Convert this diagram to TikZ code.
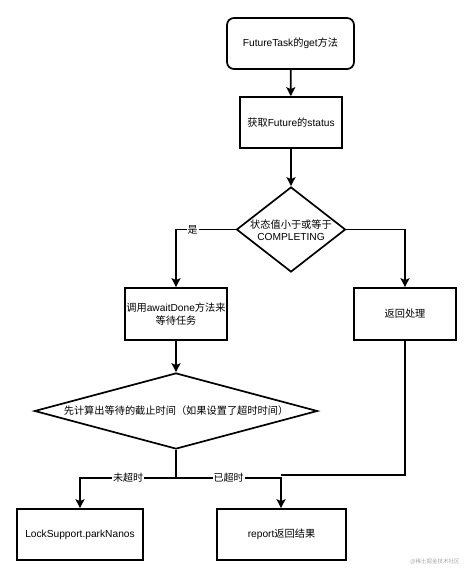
\documentclass[tikz,border=0pt]{standalone}
\usepackage{fontspec}
\setmainfont{Liberation Sans}
\newfontfamily\cjk{Noto Sans CJK SC}
\newcommand\zh[1]{{\cjk #1}}
\usetikzlibrary{shapes.geometric,arrows.meta}
\tikzset{
  box/.style={draw, line width=1.7pt, rectangle, inner sep=0pt, align=center},
  rbox/.style={box, rounded corners=7pt},
  dia/.style={draw, line width=1.7pt, diamond, inner sep=0pt},
  arr/.style={line width=1.7pt, -{Stealth[length=9pt,width=9pt,inset=2pt]}},
  conn/.style={line width=1.7pt},
  lbl/.style={fill=white, inner sep=1pt, font=\fontsize{10}{12}\selectfont},
  txt/.style={inner sep=0pt, align=center}
}
\begin{document}
\begin{tikzpicture}[x=1pt,y=-1pt, font=\fontsize{10.2}{12.2}\selectfont]
\fill[white] (0,0) rectangle (474,578);
\useasboundingbox (0,0) rectangle (474,578);

\node[rbox, minimum width=127, minimum height=51] (t) at (290.5,43.5) {FutureTask\zh{的}get\zh{方法}};
\node[box, minimum width=102, minimum height=51] (s) at (291,122.5) {\zh{获取}Future\zh{的}status};
\node[dia, minimum width=109, minimum height=85] (d1) at (291,229.5) {};
\node[txt] (d1t) at (291,230) {\zh{状态值小于或等于}\\COMPLETING};
\node[box, minimum width=102, minimum height=52] (aw) at (176,314) {\zh{调用}awaitDone\zh{方法来}\\\zh{等待任务}};
\node[box, minimum width=102, minimum height=52] (ret) at (405,314) {\zh{返回处理}};
\node[dia, minimum width=283, minimum height=76] (d2) at (176,411) {};
\node[txt] (d2t) at (176,411) {\zh{先计算出等待的截止时间（如果设置了超时时间）}};
\node[box, minimum width=126, minimum height=51] (ls) at (80,534.5) {LockSupport.parkNanos};
\node[box, minimum width=129, minimum height=51] (rep) at (281.5,534.5) {report\zh{返回结果}};
\coordinate (j) at (176,478);
\coordinate (k) at (281,475);
\node[txt, text=gray!70, font=\fontsize{5.5}{6}\selectfont] (wm) at (435,562) {\zh{@稀土掘金技术社区}};

\draw[arr] (t) -- (s);
\draw[arr] (s) -- (d1);
\draw[arr] (d1.west) -| node[lbl, pos=0.36] {\zh{是}} (aw);
\draw[arr] (d1.east) -| (ret);
\draw[arr] (aw) -- (d2);
\draw[conn] (d2.south) -- (j);
\draw[arr] (j) -| node[lbl, pos=0.25] {\zh{未超时}} (ls);
\draw[arr] (j) -| node[lbl, pos=0.25] {\zh{已超时}} (rep.north -| k);
\draw[conn] (ret.south) |- (k);
\end{tikzpicture}
\end{document}
